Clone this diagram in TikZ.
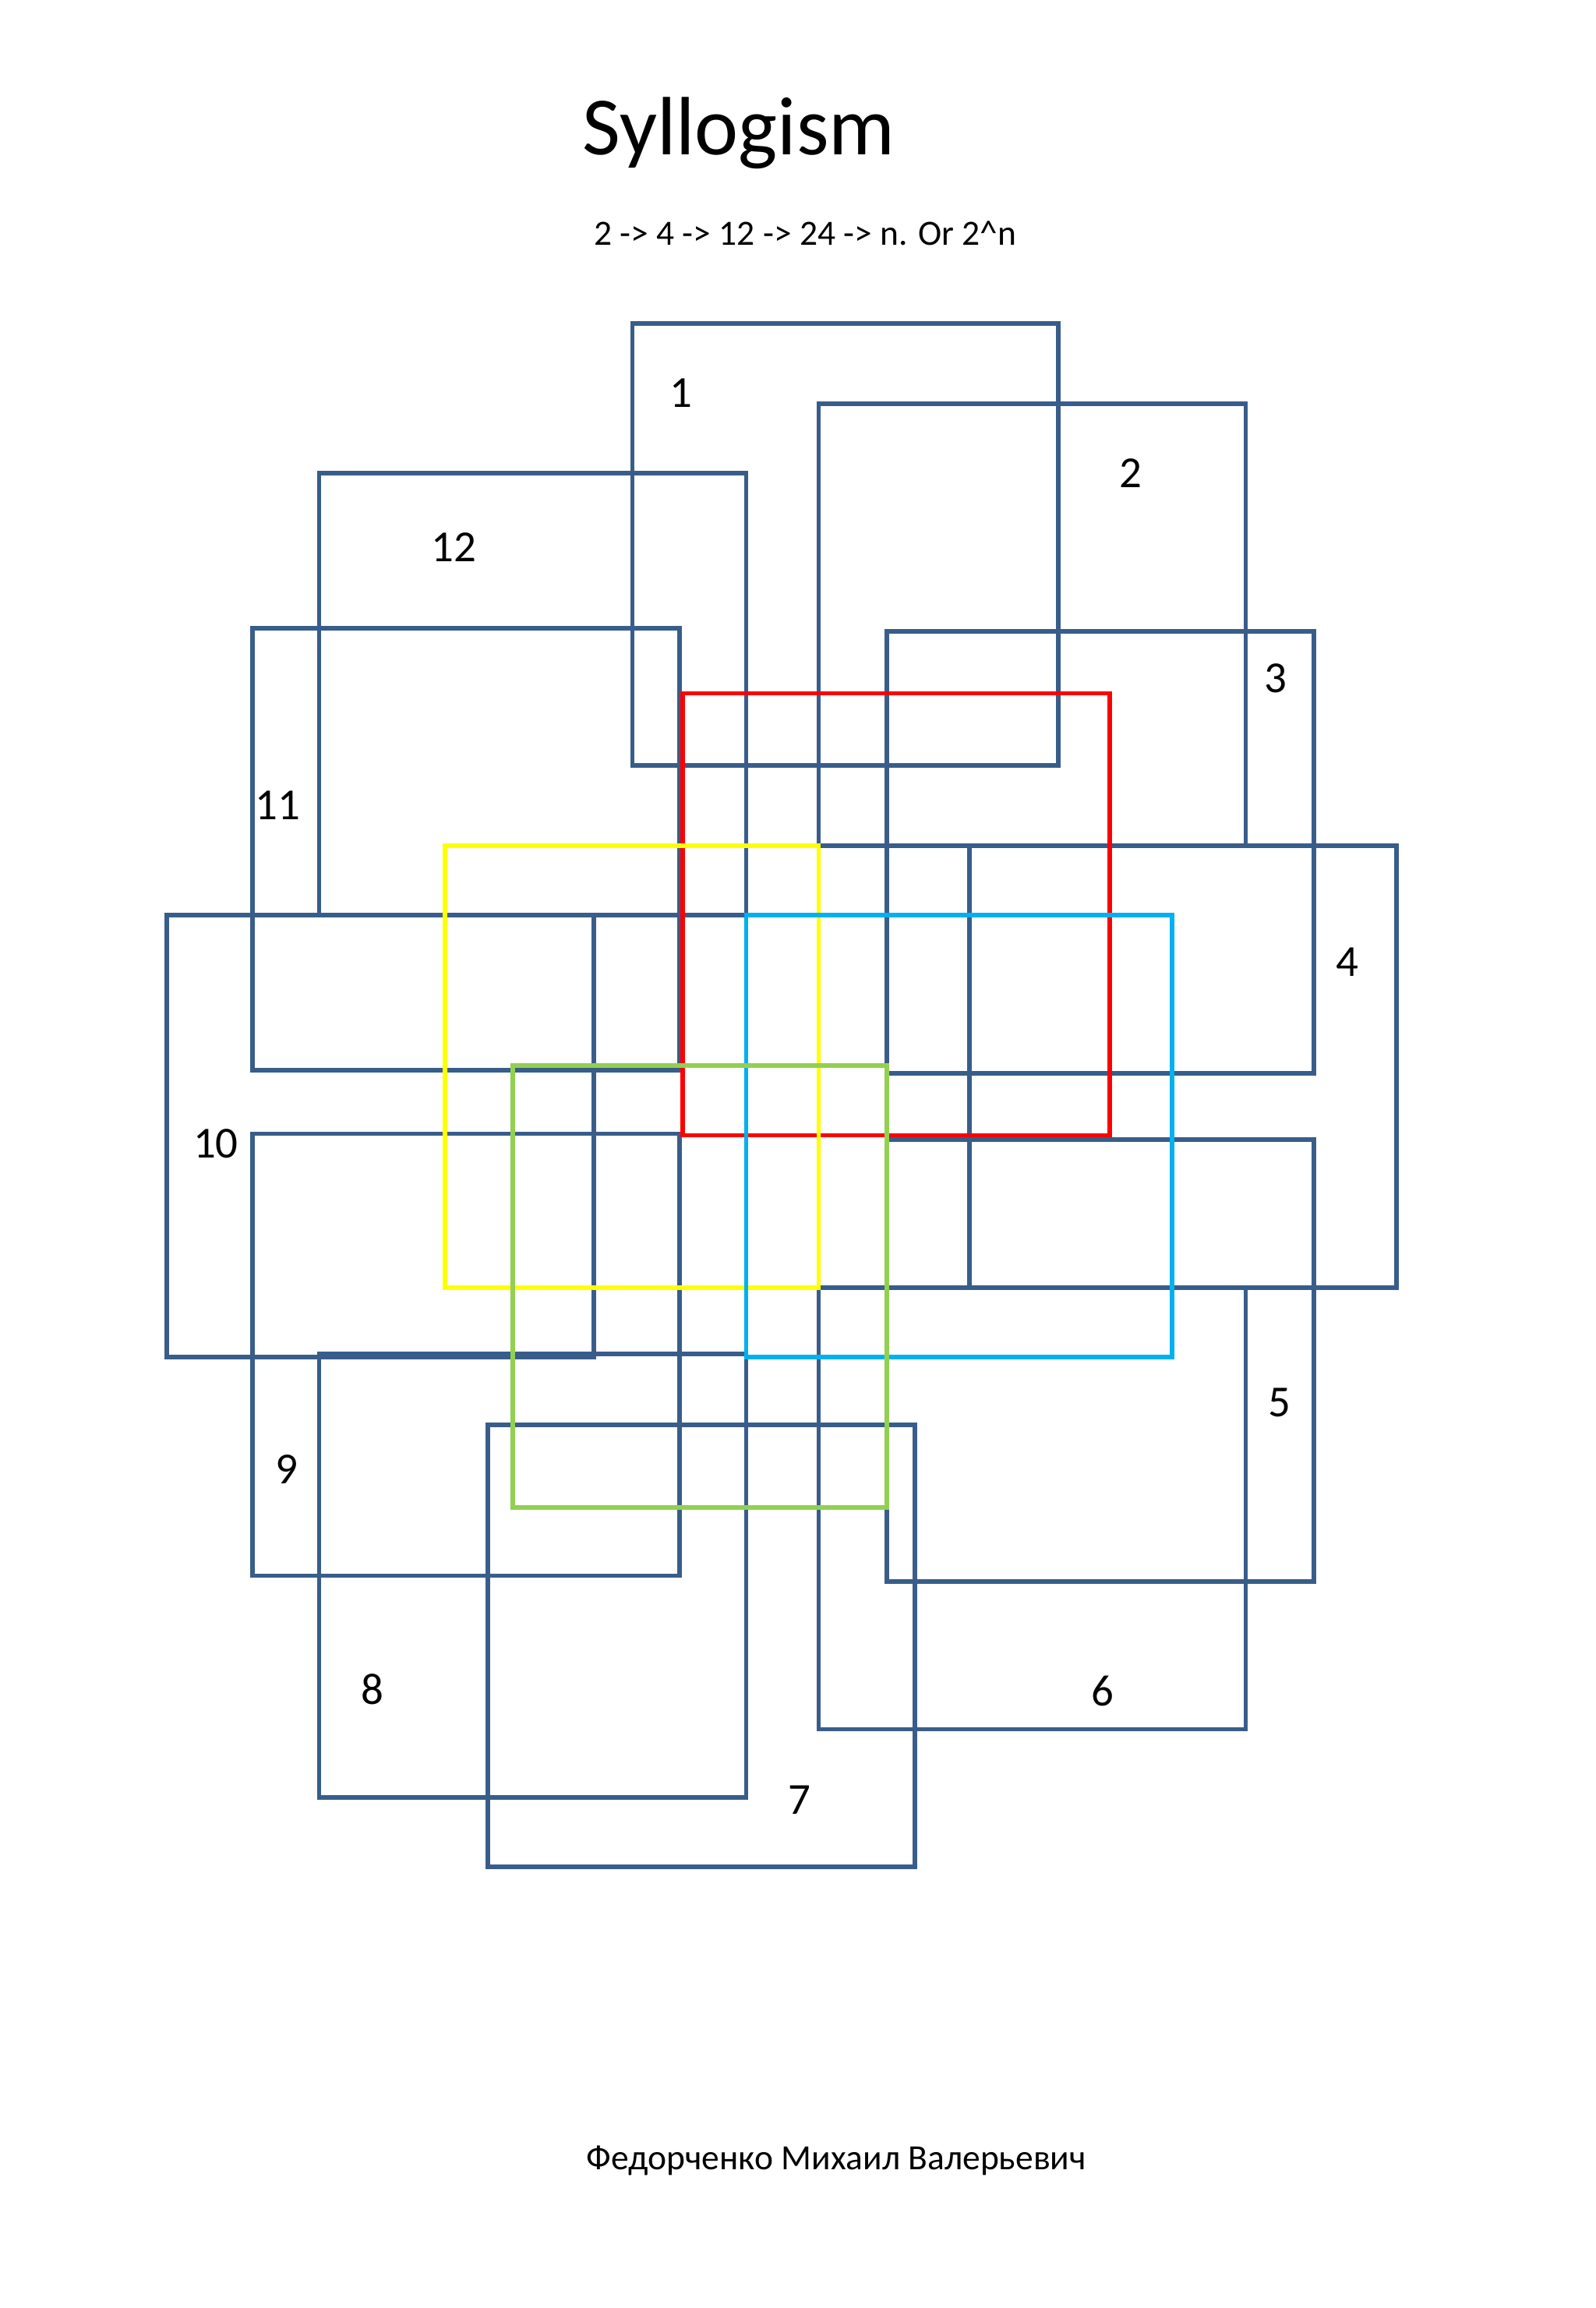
\documentclass[tikz,border=0pt]{standalone}
\usepackage{fontspec}
\setmainfont{Carlito}
\definecolor{bx}{HTML}{385D8A}
\definecolor{yl}{HTML}{FFFF00}
\definecolor{cy}{HTML}{00B0F0}
\definecolor{gr}{HTML}{92D050}
\begin{document}
\begin{tikzpicture}[x=1pt,y=-1pt,
  sq/.style={draw=bx,line width=3pt},
  lab/.style={font=\fontsize{30}{36}\selectfont}]
\useasboundingbox[fill=white] (0,0) rectangle (1080,1561.5);
\node[font=\fontsize{56}{66}\selectfont] (title) at (500,90) {Syllogism};
\node[font=\fontsize{24}{29}\selectfont] (sub) at (545,158) {2 -> 4 -> 12 -> 24 -> n. Or 2\^{}n};
\node[font=\fontsize{24}{29}\selectfont] (auth) at (566,1462) {Федорченко Михаил Валерьевич};
\draw[sq] (428,219) rectangle (716,518);
\draw[sq] (554,273) rectangle (843,572);
\draw[sq] (600,427) rectangle (889,726);
\draw[sq] (656,572) rectangle (945,871);
\draw[sq] (600,771) rectangle (889,1070);
\draw[sq] (554,871) rectangle (843,1170);
\draw[sq] (330,964) rectangle (619,1263);
\draw[sq] (216,916) rectangle (505,1216);
\draw[sq] (171,767) rectangle (460,1066);
\draw[sq] (113,619) rectangle (402,918);
\draw[sq] (171,425) rectangle (460,724);
\draw[sq] (216,320) rectangle (505,619);
\draw[line width=3pt,draw=red] (462,469) rectangle (751,768);
\draw[line width=3pt,draw=yl] (301,572) rectangle (554,871);
\draw[line width=3pt,draw=cy] (505,619) rectangle (793,918);
\draw[line width=3pt,draw=gr] (347,721) rectangle (600,1020);
\node[lab] (l1) at (461,266) {1};
\node[lab] (l2) at (765,320) {2};
\node[lab] (l3) at (863,459) {3};
\node[lab] (l4) at (912,651) {4};
\node[lab] (l5) at (866,949) {5};
\node[lab] (l6) at (746,1144) {6};
\node[lab] (l7) at (541,1218) {7};
\node[lab] (l8) at (252,1143) {8};
\node[lab] (l9) at (194,994) {9};
\node[lab] (l10) at (146,774) {10};
\node[lab] (l11) at (188,545) {11};
\node[lab] (l12) at (307,370) {12};
\end{tikzpicture}
\end{document}
